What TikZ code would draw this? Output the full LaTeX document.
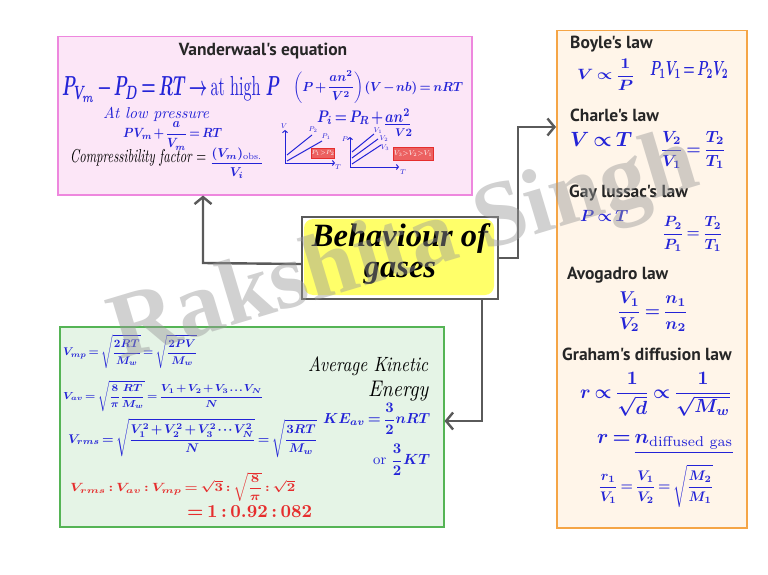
\documentclass[tikz,border=0pt]{standalone}
\usepackage{fontspec}
\usepackage{amsmath}
\usepackage{graphicx}
\newfontfamily\headf{PT Sans}
\newfontfamily\titlef{Liberation Serif}
\usetikzlibrary{arrows.meta}
\definecolor{hblue}{RGB}{35,35,215}
\definecolor{hred}{RGB}{230,45,45}
\definecolor{pinkfill}{RGB}{252,230,247}
\definecolor{pinkline}{RGB}{238,135,222}
\definecolor{greenfill}{RGB}{229,244,230}
\definecolor{greenline}{RGB}{85,180,85}
\definecolor{orfill}{RGB}{255,245,233}
\definecolor{orline}{RGB}{245,165,70}
\definecolor{connc}{RGB}{90,90,90}
\definecolor{yel}{RGB}{255,255,105}
\newcommand\fw[2]{\resizebox{#1pt}{!}{#2}}
\newcommand\fwh[3]{\resizebox*{#1pt}{#2pt}{#3}}
\newcommand\bm[1]{{\thinmuskip=1.5mu\medmuskip=2mu\thickmuskip=3mu\boldmath$#1$}}
\tikzset{
  box/.style={anchor=north west,inner sep=0pt,line width=1.5pt},
  conn/.style={draw=connc,line width=2.4pt,-{Straight Barb[length=7pt,width=17pt]}},
  head/.style={font=\headf\bfseries\fontsize{17.5}{19}\selectfont,text=black!85,anchor=west,inner sep=0pt},
  bl/.style={text=hblue,inner sep=0pt,anchor=west},
  rd/.style={text=hred,inner sep=0pt,anchor=west},
  hand/.style={inner sep=0pt,anchor=west,font=\itshape},
  ax/.style={draw=hblue,line width=1pt,-{Straight Barb[length=2pt,width=5pt]}},
  gl/.style={draw=hblue,line width=1pt},
  tiny/.style={text=hblue,inner sep=0pt,font=\fontsize{7}{8}\selectfont},
}
\begin{document}
\begin{tikzpicture}[x=1pt,y=-1pt]
\useasboundingbox (0,0) rectangle (768,575);
\fill[white] (0,0) rectangle (768,575);
% boxes
\node[box,draw=pinkline,fill=pinkfill,minimum width=414pt,minimum height=158pt] (vdw) at (57,36) {};
\node[box,draw=orline,fill=orfill,minimum width=190pt,minimum height=497pt] (laws) at (556,30) {};
\node[box,draw=greenline,fill=greenfill,minimum width=384pt,minimum height=200pt] (kin) at (59,326) {};
\node[box,draw=connc,line width=2pt,fill=white,minimum width=196pt,minimum height=82pt] (beh) at (301,216) {};
\fill[yel,rounded corners=9pt] (304,219) rectangle (494,295);
\node[inner sep=0pt,font=\titlef\bfseries\itshape\fontsize{32.5}{34}\selectfont] (t1) at (400,239) {Behaviour of};
\node[inner sep=0pt,font=\titlef\bfseries\itshape\fontsize{32.5}{34}\selectfont] (t2) at (400,273) {gases};
% connectors
\coordinate (lj) at (203,263);
\coordinate (rj) at (518,127);
\coordinate (bj) at (482,421);
\draw[conn] ([yshift=-6pt]beh.west) -- (lj) -- (lj |- vdw.south);
\draw[conn] (beh.east) -| (rj) -- (laws.west |- rj);
\draw[conn] (beh.south -| bj) -- (bj) -- (kin.east |- bj);
% ---- Vanderwaal box
\node[head,anchor=center] (vt) at (263,51) {Vanderwaal's equation};
\node[bl] (e1) at (62,89) {\fwh{218}{26}{\bm{P_{V_m} - P_{D} = RT \rightarrow \text{at high } P}}};
\node[bl] (e2) at (293,87) {\fwh{170}{33}{\bm{\left(P+\dfrac{an^2}{V^2}\right)(V-nb) = nRT}}};
\node[bl] (e3) at (103,114) {\fw{106}{\itshape At low pressure}};
\node[bl] (e4) at (123,136) {\fwh{99}{28}{\bm{PV_m + \dfrac{a}{V_m} = RT}}};
\node[hand] (e5) at (70,158) {\fwh{136}{17}{Compressibility factor $=$}};
\node[bl] (e6) at (210,163) {\fw{53}{\bm{\dfrac{(V_m)_{\text{obs.}}}{V_i}}}};
\node[bl] (e7) at (317,117) {\fwh{93}{17}{\bm{P_i = P_R + \underline{an^2}}}};
\node[bl] (e8) at (395,133) {\fw{17}{\bm{V2}}};
% graph 1
\coordinate (g1) at (285,163);
\draw[ax] (g1) -- (285,130);
\draw[ax] (g1) -- (335,163);
\node[tiny] (g1v) at (284,126) {$V$};
\node[tiny] (g1t) at (338,167) {$T$};
\draw[gl] (287,155) -- (312,135);
\draw[gl] (287,161) -- (322,141);
\node[tiny] (g1p2) at (313,130) {$P_2$};
\node[tiny] (g1p1) at (326,137) {$P_1$};
\node[draw=hred,fill=hred!75,text=white,inner sep=0pt,minimum width=22pt,minimum height=10pt,font=\fontsize{6}{7}\selectfont] (r1) at (323,153) {$P_1{>}P_2$};
% graph 2
\coordinate (g2) at (350,167);
\draw[ax] (g2) -- (350,137);
\draw[ax] (g2) -- (399,167);
\node[tiny] (g2p) at (345,139) {$P$};
\node[tiny] (g2t) at (403,172) {$T$};
\draw[gl] (352,152) -- (374,134);
\draw[gl] (352,158) -- (378,139);
\draw[gl] (352,164) -- (381,145);
\node[tiny] (g2v1) at (378,131) {$V_1$};
\node[tiny] (g2v2) at (384,139) {$V_2$};
\node[tiny] (g2v3) at (385,148) {$V_3$};
\node[draw=hred,fill=hred!75,text=white,inner sep=0pt,minimum width=40pt,minimum height=13pt,font=\fontsize{7}{8}\selectfont] (r2) at (413,153.5) {$V_3{>}V_2{>}V_1$};
% ---- right box
\node[head] (h1) at (570,44) {Boyle's law};
\node[bl] (b1) at (577,75) {\fwh{58}{32}{\bm{V \propto \dfrac{1}{P}}}};
\node[bl] (b2) at (650,70) {\fwh{78}{17}{\bm{P_1V_1 = P_2V_2}}};
\node[head] (h2) at (570,115) {Charle's law};
\node[bl] (c1) at (570,139) {\fw{62}{\bm{V \propto T}}};
\node[bl] (c2) at (660,150) {\fw{66}{\bm{\dfrac{V_2}{V_1} = \dfrac{T_2}{T_1}}}};
\node[head] (h3) at (569,193) {Gay lussac's law};
\node[bl] (d1) at (580,216) {\fw{48}{\bm{P \propto T}}};
\node[bl] (d2) at (662,234) {\fw{61}{\bm{\dfrac{P_2}{P_1} = \dfrac{T_2}{T_1}}}};
\node[head] (h4) at (567,275) {Avogadro law};
\node[bl] (a1) at (617,312) {\fw{71}{\bm{\dfrac{V_1}{V_2} = \dfrac{n_1}{n_2}}}};
\node[head] (h5) at (562,354) {Graham's diffusion law};
\node[bl] (g1e) at (580,394) {\fw{152}{\bm{r \propto \dfrac{1}{\sqrt{d}} \propto \dfrac{1}{\sqrt{M_w}}}}};
\node[bl] (g2e) at (597,444) {\fw{136}{\bm{r = \underline{n_{\text{diffused gas}}}}}};
\node[bl] (g3e) at (598,486) {\fw{115}{\bm{\dfrac{r_1}{V_1} = \dfrac{V_1}{V_2} = \sqrt{\dfrac{M_2}{M_1}}}}};
% ---- green box
\node[bl] (k1) at (63,352) {\fwh{134}{34}{\bm{V_{mp} = \sqrt{\dfrac{2RT}{M_w}} = \sqrt{\dfrac{2PV}{M_w}}}}};
\node[bl] (k2) at (63,396) {\fwh{200}{31}{\bm{V_{av} = \sqrt{\dfrac{8}{\pi}\dfrac{RT}{M_w}} = \dfrac{V_1+V_2+V_3\ldots V_N}{N}}}};
\node[bl] (k3) at (68,438) {\fwh{249}{40}{\bm{V_{rms} = \sqrt{\dfrac{V_1^2+V_2^2+V_3^2\cdots V_N^2}{N}} = \sqrt{\dfrac{3RT}{M_w}}}}};
\node[hand] (k4) at (308,366) {\fwh{120}{19}{Average Kinetic}};
\node[hand] (k5) at (368,391) {\fwh{60}{20}{Energy}};
\node[bl] (k6) at (323,419) {\fw{107}{\bm{KE_{av} = \dfrac{3}{2}nRT}}};
\node[bl] (k7) at (373,460) {\fw{57}{\bm{\text{or }\dfrac{3}{2}KT}}};
\node[rd] (k8) at (70,487) {\fwh{225}{29}{\bm{V_{rms} : V_{av} : V_{mp} = \sqrt{3} : \sqrt{\dfrac{8}{\pi}} : \sqrt{2}}}};
\node[rd] (k9) at (187,512) {\fw{125}{\bm{= 1 : 0.92 : 082}}};
% watermark
\node[text=gray!80,opacity=0.45,rotate=16.7,inner sep=0pt,font=\titlef\bfseries\fontsize{93}{96}\selectfont] (wm) at (405,251) {Rakshita Singh};
\end{tikzpicture}
\end{document}
